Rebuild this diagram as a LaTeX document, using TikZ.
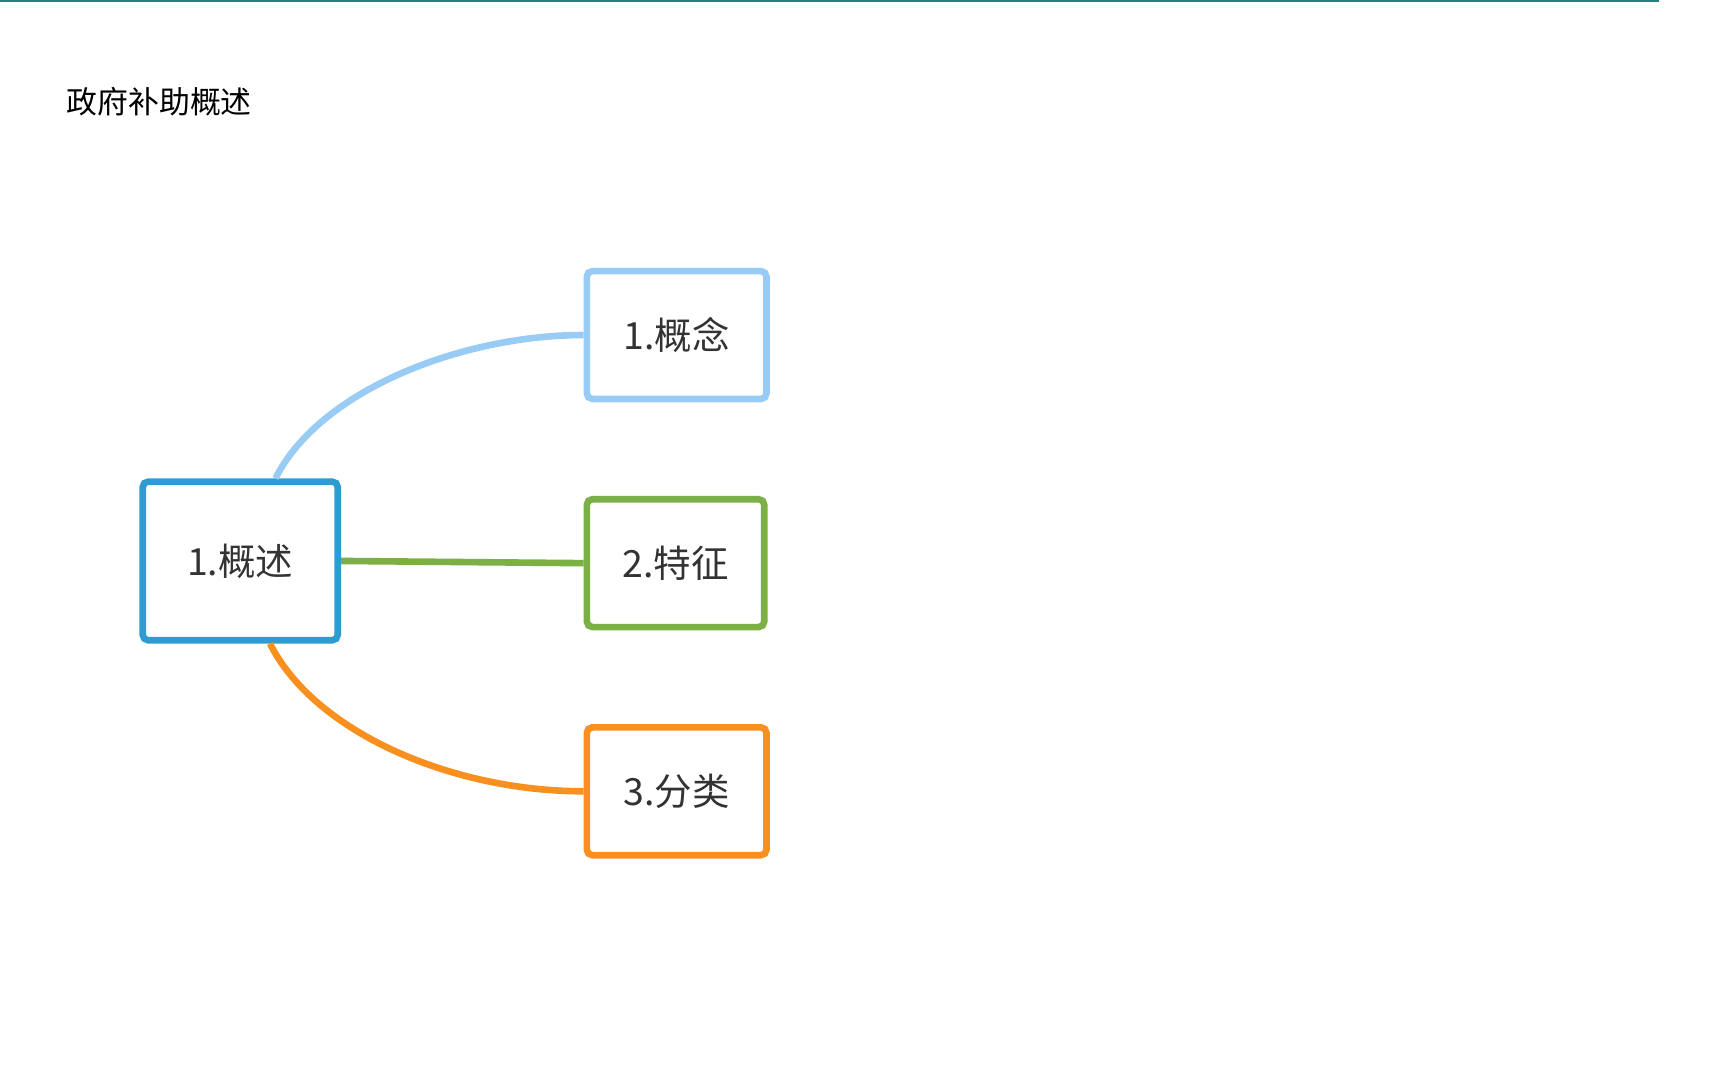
\documentclass[tikz,border=0pt]{standalone}
\usepackage{fontspec}
\setmainfont{Noto Sans CJK SC}
\definecolor{cblue}{HTML}{2E9BD1}
\definecolor{clight}{HTML}{99CCF5}
\definecolor{cgreen}{HTML}{7CAF45}
\definecolor{corange}{HTML}{F7901E}
\definecolor{ctext}{HTML}{333333}
\begin{document}
\begin{tikzpicture}[x=1pt,y=-1pt,
  box/.style={draw,line width=6pt,rounded corners=5pt,fill=white,text=ctext,font=\fontsize{34}{40}\selectfont,inner sep=0pt},
  link/.style={line width=6pt}]
\useasboundingbox (0,0) rectangle (1568,980);
\fill[white] (0,0) rectangle (1568,980);
\draw[line width=3pt,color=teal!70!gray] (0,0) coordinate (tl) -- (1505,0) coordinate (tr);
\node[anchor=west,font=\fontsize{28}{32}\selectfont,text=black] (title) at (57,92) {政府补助概述};
\node[box,draw=cblue,minimum width=177pt,minimum height=144pt] (c) at (218,509) {1.概述};
\node[box,draw=clight,minimum width=163pt,minimum height=116pt] (a) at (614,304) {1.概念};
\node[box,draw=cgreen,minimum width=161pt,minimum height=116pt] (b) at (613,511) {2.特征};
\node[box,draw=corange,minimum width=163pt,minimum height=116pt] (d) at (614,718) {3.分类};
\draw[link,clight] ([xshift=32pt]c.north) .. controls +(40,-80) and +(-110,0) .. (a.west);
\draw[link,cgreen] (c.east) -- (b.west);
\draw[link,corange] ([xshift=27pt]c.south) .. controls +(40,80) and +(-120,0) .. (d.west);
\end{tikzpicture}
\end{document}
